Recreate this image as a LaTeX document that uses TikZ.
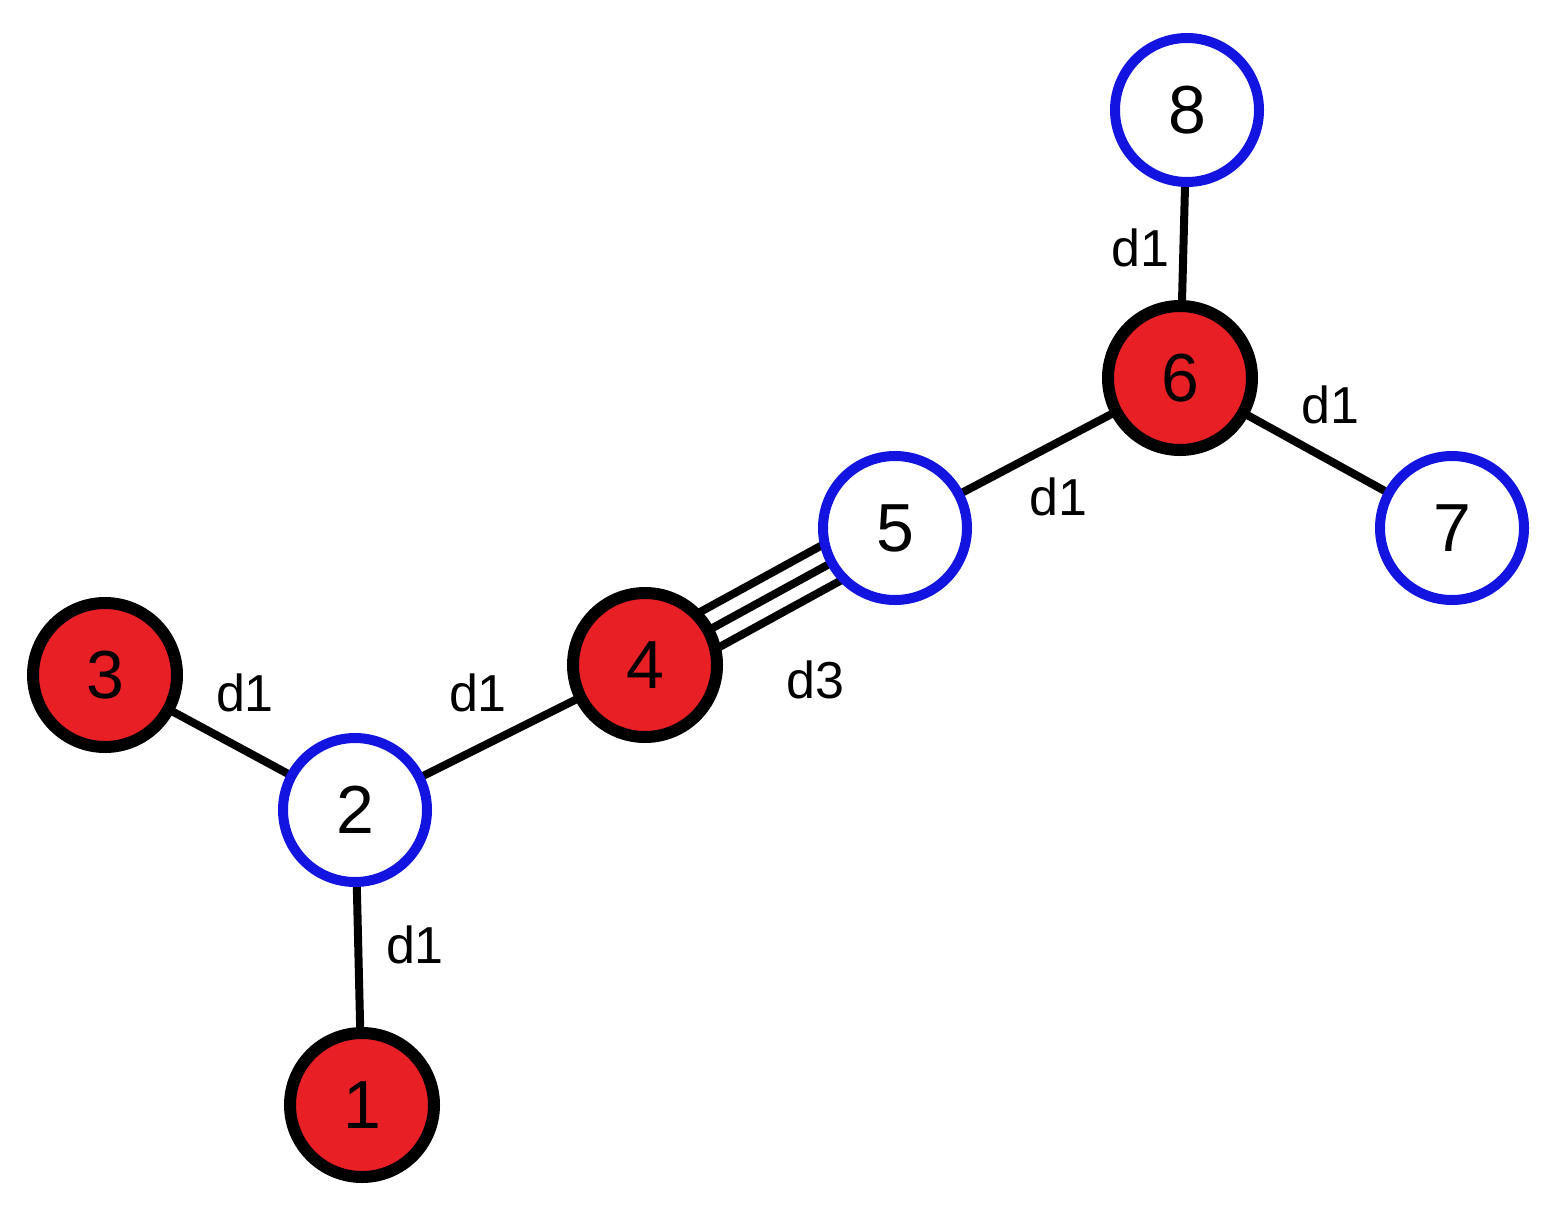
\documentclass[tikz,border=0pt]{standalone}
\usepackage{fontspec}
\setmainfont{Liberation Sans}
\usetikzlibrary{calc}
\definecolor{nred}{RGB}{232,32,38}
\definecolor{nblue}{RGB}{20,20,225}
\begin{document}
\begin{tikzpicture}[x=1pt,y=-1pt,
  rednode/.style={circle,draw=black,line width=12pt,fill=nred,minimum size=144pt,inner sep=0pt,font=\fontsize{68}{70}\selectfont},
  bluenode/.style={circle,draw=nblue,line width=10pt,fill=white,minimum size=144pt,inner sep=0pt,font=\fontsize{68}{70}\selectfont},
  bond/.style={line width=8pt},
  lab/.style={font=\fontsize{52}{54}\selectfont}]
\useasboundingbox (0,0) rectangle (1566,1218);
\coordinate (c1) at (362,1105);
\coordinate (c2) at (355,810);
\coordinate (c3) at (105,675);
\coordinate (c4) at (645,665);
\coordinate (c5) at (895,528);
\coordinate (c6) at (1180,378);
\coordinate (c7) at (1452,528);
\coordinate (c8) at (1187,110);
\draw[bond] (c1) -- (c2);
\draw[bond] (c3) -- (c2);
\draw[bond] (c2) -- (c4);
\draw[bond] (c5) -- (c6);
\draw[bond] (c6) -- (c7);
\draw[bond] (c6) -- (c8);
\draw[bond] (c4) -- (c5);
\draw[bond] ($(c4)!20pt!90:(c5)$) -- ($(c5)!20pt!-90:(c4)$);
\draw[bond] ($(c4)!20pt!-90:(c5)$) -- ($(c5)!20pt!90:(c4)$);
\node[rednode] (n1) at (c1) {1};
\node[bluenode] (n2) at (c2) {2};
\node[rednode] (n3) at (c3) {3};
\node[rednode] (n4) at (c4) {4};
\node[bluenode] (n5) at (c5) {5};
\node[rednode] (n6) at (c6) {6};
\node[bluenode] (n7) at (c7) {7};
\node[bluenode] (n8) at (c8) {8};
\node[lab] (l1) at (245,693) {d1};
\node[lab] (l2) at (478,693) {d1};
\node[lab] (l3) at (415,945) {d1};
\node[lab] (l4) at (1140,248) {d1};
\node[lab] (l5) at (1330,405) {d1};
\node[lab] (l6) at (1058,497) {d1};
\node[lab] (l7) at (815,680) {d3};
\end{tikzpicture}
\end{document}
